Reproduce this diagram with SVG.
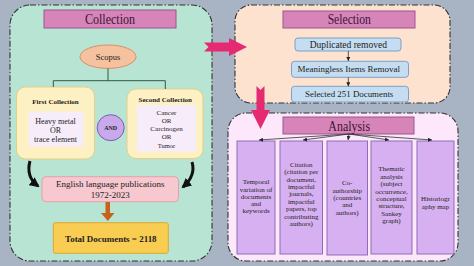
<svg xmlns="http://www.w3.org/2000/svg" width="474" height="266" viewBox="0 0 474 266">
<defs>
<style>
text{font-family:"Liberation Serif","Times New Roman",serif;fill:#222;text-anchor:middle;dominant-baseline:central}
.panel{stroke:#333;stroke-width:1.1;stroke-dasharray:6 2 1.5 2}
.title{fill:#d784b9;stroke:#9a5590;stroke-width:1}
.ttl{font-size:14px;fill:#3a1535}
.step{fill:#c5ddf1;stroke:#7e9fc6;stroke-width:1}
.col{fill:#d6b0f1;stroke:#8e6cb9;stroke-width:1}
.ct{font-size:7px}
.thin{stroke:#333;stroke-width:0.8;fill:none}
</style>
<marker id="ah" viewBox="0 0 6 6" refX="6" refY="3" markerWidth="4" markerHeight="4" markerUnits="userSpaceOnUse" orient="auto"><path d="M0,0L6,3L0,6z" fill="#222"/></marker>
<marker id="big" viewBox="0 0 10 10" refX="8" refY="5" markerWidth="10" markerHeight="10" markerUnits="userSpaceOnUse" orient="auto"><path d="M0,0L10,5L0,10z" fill="#111"/></marker>
</defs>
<rect width="474" height="266" fill="#a8b4c4"/>

<g id="collection">
<rect class="panel" x="10" y="5" width="202" height="256" rx="20" fill="#b8e5d3"/>
<rect class="title" x="44" y="10" width="132" height="18"/>
<text class="ttl" x="110" y="19.5" textLength="50" lengthAdjust="spacingAndGlyphs">Collection</text>
</g>

<g id="scopus">
<ellipse cx="108" cy="56.7" rx="28" ry="11.7" fill="#f6c19e" stroke="#d69068" stroke-width="1"/>
<text x="108" y="56.7" font-size="8.5">Scopus</text>
</g>

<g id="first-collection">
<rect x="16.5" y="87" width="78" height="72" rx="9" fill="#fdf0c2" stroke="#e3cf86" stroke-width="1"/>
<rect x="28.5" y="111.5" width="55" height="35" fill="#f7ecfa"/>
<text x="55.5" y="101.7" font-size="7" font-weight="bold">First Collection</text>
<text x="55.5" y="121.7" font-size="8">Heavy metal</text>
<text x="55.5" y="130.3" font-size="8">OR</text>
<text x="55.5" y="139.3" font-size="8">trace element</text>
</g>

<g id="and">
<ellipse cx="110.7" cy="127.7" rx="13.5" ry="13" fill="#c9a9ec" stroke="#7a5bb2" stroke-width="1"/>
<text x="110.7" y="127.9" font-size="6" font-weight="bold">AND</text>
</g>

<g id="second-collection">
<rect x="127" y="89" width="76" height="69.5" rx="9" fill="#fdf0c2" stroke="#e3cf86" stroke-width="1"/>
<rect x="137" y="105" width="59" height="46.5" fill="#f7ecfa"/>
<text x="165.3" y="100" font-size="7" font-weight="bold">Second Collection</text>
<text x="166.5" y="112.7" font-size="7">Cancer</text>
<text x="166.5" y="120.7" font-size="7">OR</text>
<text x="166.5" y="129" font-size="7">Carcinogen</text>
<text x="166.5" y="136.9" font-size="7">OR</text>
<text x="166.5" y="145" font-size="6.5">Tumor</text>
</g>

<g id="english">
<rect x="42" y="176.7" width="136.5" height="25" rx="4" fill="#f7c8d0" stroke="#e4a0aa" stroke-width="1"/>
<text x="110.3" y="184.3" font-size="9">English language publications</text>
<text x="110.3" y="194.5" font-size="9">1972-2023</text>
</g>

<g id="total">
<rect x="53.3" y="222.7" width="115" height="30.6" rx="2" fill="#f8cd52" stroke="#d9a933" stroke-width="1"/>
<text x="110.8" y="239.3" font-size="9" font-weight="bold" textLength="91.6" lengthAdjust="spacingAndGlyphs">Total Documents = 2118</text>
</g>

<g id="selection">
<rect class="panel" x="235" y="5" width="215" height="98" rx="16" fill="#fde3cf"/>
<rect class="title" x="283" y="11" width="132" height="17"/>
<text class="ttl" x="349.3" y="19.7" textLength="43.3" lengthAdjust="spacingAndGlyphs">Selection</text>
</g>

<g id="duplicated">
<rect class="step" x="295" y="38" width="106" height="13" rx="3"/>
<text x="348.3" y="44.5" font-size="9.5">Duplicated removed</text>
</g>
<g id="meaningless">
<rect class="step" x="291.5" y="61.3" width="117" height="16" rx="3"/>
<text x="348.7" y="69.3" font-size="9">Meaningless Items Removal</text>
</g>
<g id="selected">
<rect class="step" x="291.5" y="86.3" width="117" height="15.7" rx="3"/>
<text x="349.2" y="94.3" font-size="8.9">Selected 251 Documents</text>
</g>

<g id="analysis">
<rect class="panel" x="228" y="113" width="230" height="148" rx="18" fill="#fde8fb"/>
<rect class="title" x="283" y="117" width="131" height="17"/>
<text class="ttl" x="349.2" y="126" textLength="41.7" lengthAdjust="spacingAndGlyphs">Analysis</text>
</g>

<g id="col-temporal">
<rect class="col" x="237" y="141" width="38" height="113"/>
<text class="ct" x="256" y="182.3">Temporal</text>
<text class="ct" x="256" y="189.5">variation of</text>
<text class="ct" x="256" y="196.7">documents</text>
<text class="ct" x="256" y="203.9">and</text>
<text class="ct" x="256" y="211.1">keywords</text>
</g>
<g id="col-citation">
<rect class="col" x="280" y="141" width="42.5" height="113"/>
<text class="ct" x="301.3" y="165">Citation</text>
<text class="ct" x="301.3" y="172.4">(citation per</text>
<text class="ct" x="301.3" y="179.7">document,</text>
<text class="ct" x="301.3" y="187.1">impactful</text>
<text class="ct" x="301.3" y="194.4">journals,</text>
<text class="ct" x="301.3" y="201.8">impactful</text>
<text class="ct" x="301.3" y="209.1">papers, top</text>
<text class="ct" x="301.3" y="216.5">contributing</text>
<text class="ct" x="301.3" y="223.8">authors)</text>
</g>
<g id="col-coauthorship">
<rect class="col" x="327" y="141" width="40.5" height="114"/>
<text class="ct" x="347.2" y="183.3">Co-</text>
<text class="ct" x="347.2" y="190.6">authorship</text>
<text class="ct" x="347.2" y="197.9">(countries</text>
<text class="ct" x="347.2" y="205.2">and</text>
<text class="ct" x="347.2" y="212.5">authors)</text>
</g>
<g id="col-thematic">
<rect class="col" x="371" y="141" width="41" height="113"/>
<text class="ct" x="391.5" y="169.3">Thematic</text>
<text class="ct" x="391.5" y="176.7">analysis</text>
<text class="ct" x="391.5" y="184.1">(subject</text>
<text class="ct" x="391.5" y="191.5">occurrence,</text>
<text class="ct" x="391.5" y="198.9">conceptual</text>
<text class="ct" x="391.5" y="206.3">structure,</text>
<text class="ct" x="391.5" y="213.7">Sankey</text>
<text class="ct" x="391.5" y="221.1">graph)</text>
</g>
<g id="col-historiography">
<rect class="col" x="417" y="141" width="37" height="113"/>
<text class="ct" x="435.5" y="199">Historiogr</text>
<text class="ct" x="435.5" y="206.5">aphy map</text>
</g>

<g id="connectors">
<path d="M108,68.4V80.7M53.3,80.7H165.3M53.3,80.7V87M165.3,80.7V89" stroke="#2e5a48" stroke-width="1" fill="none"/>
<path d="M30,161 C27,172 30,180 38,186" stroke="#111" stroke-width="3" fill="none" marker-end="url(#big)"/>
<path d="M192,162 C195,172 191,180 183,187" stroke="#111" stroke-width="3" fill="none" marker-end="url(#big)"/>
<polygon points="105.5,202 110,202 110,213 114.5,213 107.8,221 101,213 105.5,213" fill="#c8601e"/>
<path class="thin" d="M348.3,51V61" marker-end="url(#ah)"/>
<path class="thin" d="M348.3,77.3V86.3" marker-end="url(#ah)"/>
<path class="thin" d="M349,134L259,140" marker-end="url(#ah)"/>
<path class="thin" d="M349,134L303,140" marker-end="url(#ah)"/>
<path class="thin" d="M349,134L348,140" marker-end="url(#ah)"/>
<path class="thin" d="M349,134L389,140" marker-end="url(#ah)"/>
<path class="thin" d="M349,134L432,140" marker-end="url(#ah)"/>
<polygon points="204,42.5 229,42.5 229,38 247,47 229,56 229,51.5 204,51.5 208.5,47" fill="#e62a72"/>
<polygon points="256.5,86 260.5,90 264.5,86 264.5,110 270,110 260.5,129 251,110 256.5,110" fill="#e62a72"/>
</g>
</svg>
